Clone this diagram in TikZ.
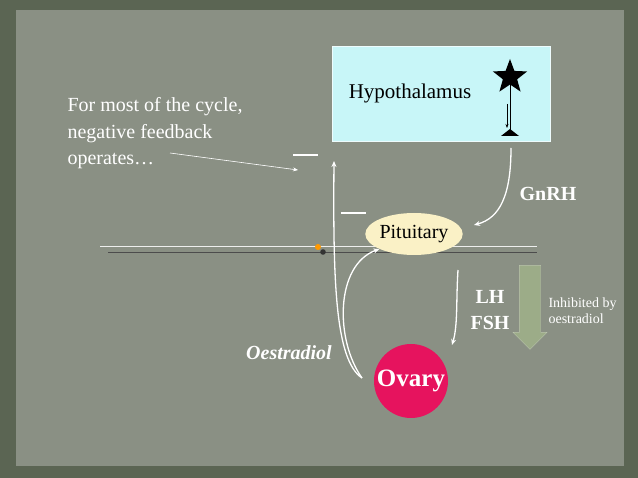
\documentclass[tikz,border=0pt]{standalone}
\usepackage{fontspec}
\setmainfont{Liberation Serif}
\usetikzlibrary{arrows.meta,shapes.geometric,shapes.arrows}
\definecolor{frame}{HTML}{5B6553}
\definecolor{panel}{HTML}{8A9084}
\definecolor{hyp}{HTML}{C8F6F8}
\definecolor{pit}{HTML}{FAF1C6}
\definecolor{ova}{HTML}{E6135E}
\definecolor{garrow}{HTML}{9CAC88}
\tikzset{
  wl/.style={white,line width=1.3pt,-{Stealth[length=6pt,width=5pt]}},
  wtxt/.style={text=white,font=\bfseries\fontsize{20}{22}\selectfont},
  minusbar/.style={white,line width=2.5pt}
}
\begin{document}
\begin{tikzpicture}[x=1pt,y=-1pt]
\useasboundingbox (0,0) rectangle (638,478);
\fill[frame] (0,0) rectangle (638,478);
\fill[panel] (16,10) rectangle (624,466);
% lines
\draw[white!85!panel,line width=0.8pt] (100,246) -- (537,246);
\draw[black!70,line width=0.8pt] (108,252) -- (537,252);
\fill[orange!80!yellow] (318,247) circle (3);
\fill[black!80] (323,252) circle (2.8);
% hypothalamus
\node[fill=hyp,draw=white!70!hyp,minimum width=218,minimum height=95,anchor=north west,inner sep=0] (hyp) at (332,46) {};
\node[font=\fontsize{21}{23}\selectfont] (hyptxt) at (410,93) {Hypothalamus};
\node[star,star points=5,star point ratio=2.4,fill=black,minimum size=36,inner sep=0] (star) at (510,77) {};
\coordinate (base) at (510,134);
\draw[black,line width=0.6pt] (star.center) -- (base);
\fill[black] (501,136) -- (510,129) -- (519,136) -- cycle;
\coordinate (sa) at (507,104);
\coordinate (sb) at (507,128);
\draw[black,line width=0.6pt,-{Stealth[length=4pt,width=3pt]}] (sa) -- (sb);
% pituitary and ovary
\node[ellipse,fill=pit,minimum width=92,minimum height=42,inner sep=0,font=\fontsize{20}{22}\selectfont] (pit) at (414,234) {Pituitary};
\node[circle,fill=ova,minimum size=74,inner sep=0,font=\bfseries\fontsize{25}{27}\selectfont,text=white] (ov) at (411,381) {Ovary};
% GnRH
\coordinate (g1) at (511,148);
\draw[wl] (g1) .. controls (511,195) and (500,218) .. (474,225);
\node[wtxt] (gnrh) at (548,194) {GnRH};
% LH FSH
\coordinate (l1) at (458,270);
\coordinate (l2) at (452,345);
\draw[wl] (l1) .. controls (456,300) and (458,325) .. (l2);
\node[wtxt] (lh) at (490,297) {LH};
\node[wtxt] (fsh) at (490,323) {FSH};
\node[single arrow,shape border rotate=270,fill=garrow,draw=white!30!garrow,minimum width=34,single arrow head extend=6,minimum height=84,inner sep=10pt] (ga) at (530,302) {};
\node[text=white,font=\fontsize{14}{16}\selectfont,align=left,anchor=west] (inh) at (545,311) {Inhibited by\\oestradiol};
% oestradiol arrows
\coordinate (top) at (334,161);
\coordinate (ovl) at (362,378);
\draw[wl] (ovl) .. controls (335,360) and (333,280) .. (top);
\draw[wl] (ovl) .. controls (335,340) and (335,265) .. (pit.south west);
\node[text=white,font=\bfseries\itshape\fontsize{20}{22}\selectfont] (oes) at (289,353) {Oestradiol};
% minus
\coordinate (m1a) at (293,155); \coordinate (m1b) at (318,155);
\draw[minusbar] (m1a) -- (m1b);
\coordinate (m2a) at (341,213); \coordinate (m2b) at (366,213);
\draw[minusbar] (m2a) -- (m2b);
% text
\node[text=white,font=\fontsize{20}{26.5}\selectfont,align=left,anchor=north west] (nf) at (64,94) {For most of the cycle,\\negative feedback\\operates…};
\coordinate (t1) at (170,153);
\coordinate (t2) at (298,170);
\draw[white,line width=0.6pt,-{Stealth[length=5pt,width=4pt]}] (t1) -- (t2);
\end{tikzpicture}
\end{document}
